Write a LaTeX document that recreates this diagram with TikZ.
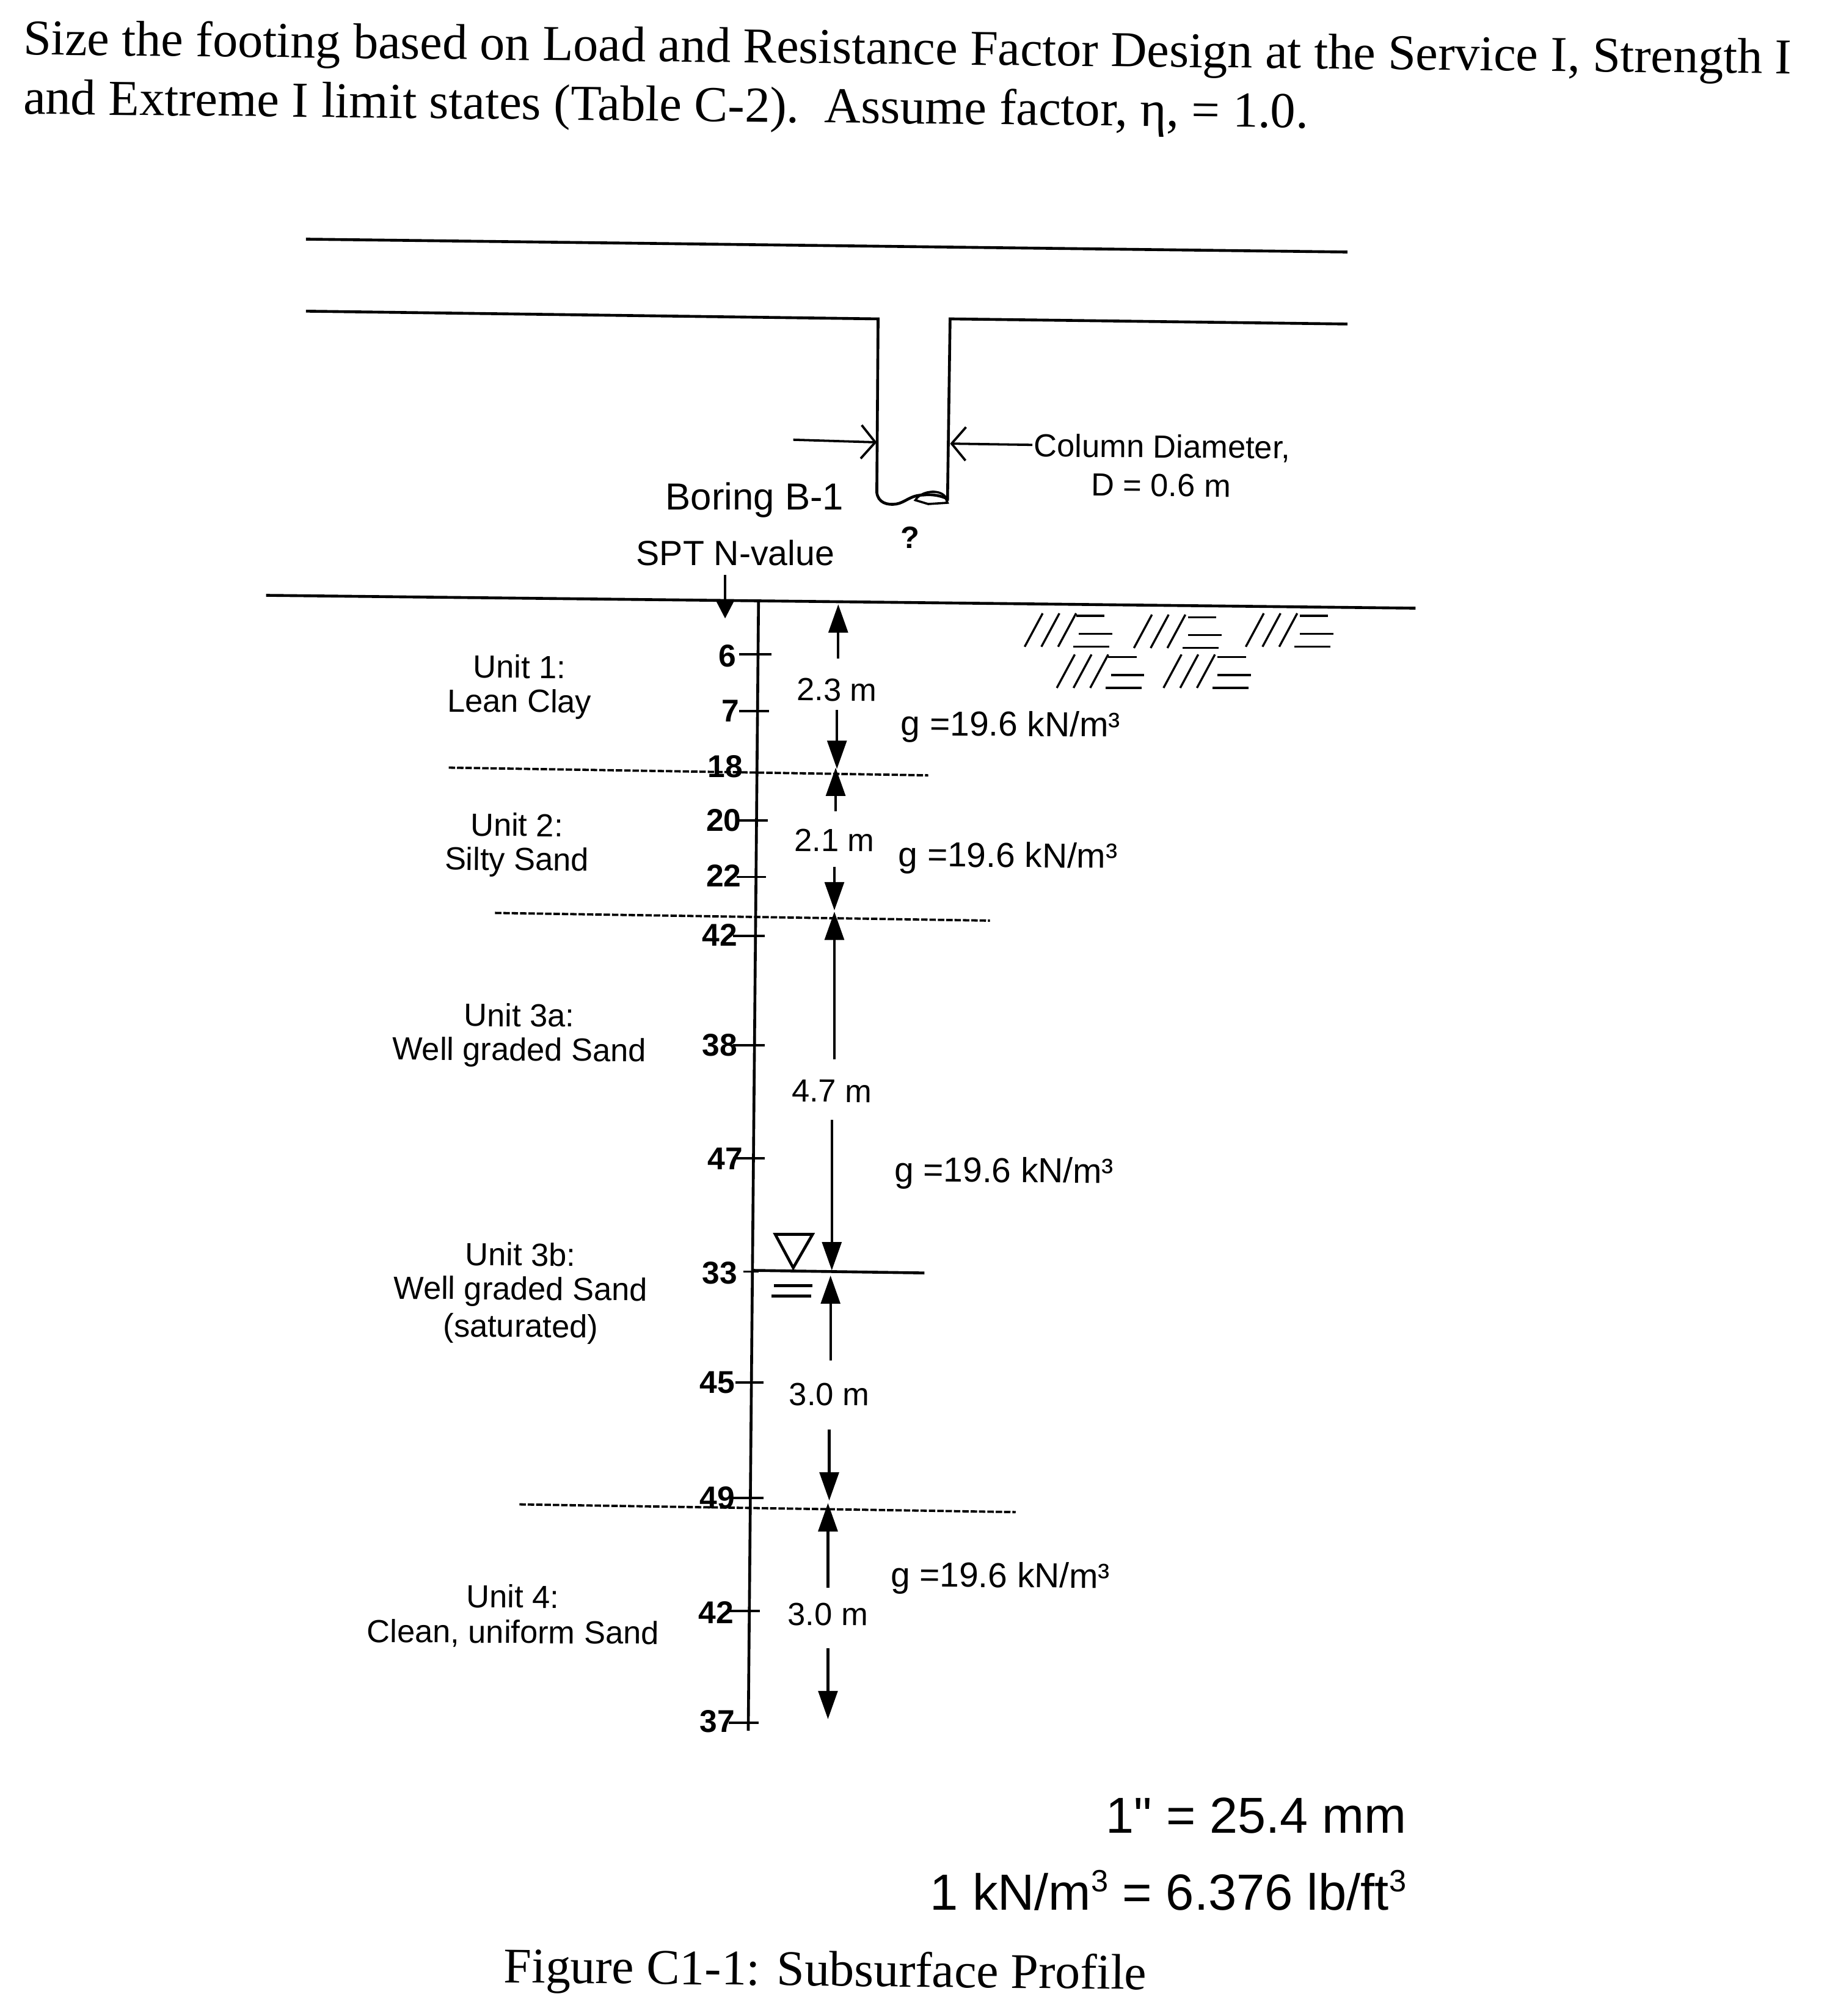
\documentclass[tikz,border=0pt]{standalone}
\usepackage{fontspec}
\setmainfont{Liberation Serif}
\setsansfont{Liberation Sans}
\newfontfamily\plainsans{Liberation Sans}
\usetikzlibrary{arrows.meta}
\newcommand{\fsz}[1]{\fontsize{#1}{#1}\selectfont}
\newcommand{\supthree}{\raisebox{0.36em}{\fsz{24}3}}
\newcommand{\hatchgroup}[3]{%
  \foreach \dx in {0,13,26}{\draw[hatch] (#1+\dx,#2) -- (#1+\dx+14,#2-26);}
  \draw[hatch] (#1+38,#2) -- (#1+66,#2);
  \draw[hatch] (#1+42,#2-10) -- (#1+68,#2-10);
  \draw[hatch] (#1+40+#3,#2-24) -- (#1+62+#3,#2-24);
}
\tikzset{
  x=1pt,y=-1pt,
  ln/.style={line width=2.2pt,black},
  thinln/.style={line width=1.7pt,black},
  hatch/.style={line width=1.6pt,black},
  soil/.style={line width=1.8pt,black,dash pattern=on 5pt off 1.5pt},
  tick/.style={line width=1.8pt,black},
  dim/.style={line width=2pt,black,-{Triangle[length=22pt,width=15pt]}},
  barb/.style={line width=1.8pt,black,-{Straight Barb[length=11pt,width=26pt]}},
  lab/.style={font=\sffamily\fsz{24.9},inner sep=0pt,rotate=-0.4,yshift=-1.5pt},
  num/.style={font=\sffamily\bfseries\fsz{24.5},inner sep=0pt},
  unitgamma/.style={font=\sffamily\fsz{27},inner sep=0pt,rotate=-0.4,yshift=-2.5pt},
  serif/.style={font=\rmfamily\fsz{39},inner sep=0pt,anchor=west,rotate=-0.62},
}
\begin{document}
\begin{tikzpicture}
\useasboundingbox (0,0) rectangle (1420.7,1567.9);
% heading
\node[serif] (h1) at (18,33) {Size the footing based on Load and Resistance Factor Design at the Service I, Strength I};
\node[serif,font=\rmfamily\fsz{39.2}] (h2) at (18,79) {and Extreme I limit states (Table C-2).\ \ Assume factor, η, = 1.0.};
% structure
\draw[ln] (238,186) -- (1048,196);
\draw[ln] (238,242) -- (683,248) -- (682,383) .. controls (683,391) and (690,393) .. (697,392)
  .. controls (704,391) and (708,385) .. (718,385) .. controls (726,384) and (733,386) .. (737,388) -- (739,248) -- (1048,252);
\draw[thinln] (712,389) .. controls (716,382) and (730,380) .. (735,386) -- (737,391) -- (722,392) -- cycle;
\coordinate (cl) at (682,344); \coordinate (cr) at (739,345);
\coordinate (cla) at (617,342); \coordinate (cra) at (803,346);
\draw[barb] (cla) -- (cl);
\draw[barb] (cra) -- (cr);
\node[lab] (cd1) at (904,347) {Column Diameter,};
\node[lab] (cd2) at (903,376) {D = 0.6 m};
\node[font=\sffamily\bfseries\fsz{24},inner sep=0pt] (q) at (708,418) {?};
\node[font=\sffamily\fsz{29.3},inner sep=0pt] (bor) at (587,389) {Boring B-1};
\node[font=\sffamily\fsz{27.2},inner sep=0pt] (spt) at (572,430) {SPT N-value};
% ground
\draw[ln] (207,463) -- (1101,473);
\coordinate (sa) at (564,447); \coordinate (sb) at (564,481);
\draw[line width=1.8pt,-{Triangle[length=14pt,width=14pt]}] (sa) -- (sb);
% hatch
\hatchgroup{797}{503}{0}
\hatchgroup{882}{504}{2}
\hatchgroup{969}{503}{2}
\hatchgroup{822}{535}{0}
\hatchgroup{905}{535}{2}
% boring
\draw[ln] (590,467) -- (582,1346);
\foreach \xa/\xb/\yy in {575/600/509,575/598/553,573/597/638,573/596/682,570/595/728,570/595/813,570/595/901,578/590/989,572/594/1075,570/594/1165,567/591/1253,567/590/1340}{
  \draw[tick] (\xa,\yy) -- (\xb,\yy);
}
\foreach \nm/\px/\py/\tx in {n1/566/510/6,n2/568/553/7,n3/564/596/18,n4/563/638/20,n5/563/681/22,n6/560/727/42,n7/560/813/38,n8/564/901/47,n9/560/990/33,n10/558/1075/45,n11/558/1165/49,n12/557/1254/42,n13/558/1339/37}{
  \node[num] (\nm) at (\px,\py) {\tx};
}
% soil boundaries
\draw[soil] (349,597) -- (722,603);
\draw[soil] (385,710) -- (770,716);
\draw[soil] (404,1170) -- (790,1176);
% water table
\draw[ln] (585,988) -- (719,990);
\draw[ln] (603,960) -- (632,960) -- (617,986) -- cycle;
\draw[ln] (602,1000) -- (632,1000);
\draw[ln] (600,1008) -- (631,1008);
% unit labels
\node[lab] (u1a) at (404,517) {Unit 1:};
\node[lab] (u1b) at (404,546) {Lean Clay};
\node[lab] (u2a) at (402,640) {Unit 2:};
\node[lab] (u2b) at (402,669) {Silty Sand};
\node[lab] (u3a) at (404,788) {Unit 3a:};
\node[lab] (u3b) at (404,817) {Well graded Sand};
\node[lab] (u4a) at (405,974) {Unit 3b:};
\node[lab] (u4b) at (405,1003) {Well graded Sand};
\node[lab] (u4c) at (405,1032) {(saturated)};
\node[lab] (u5a) at (399,1240) {Unit 4:};
\node[lab] (u5b) at (399,1269) {Clean, uniform Sand};
% dimensions
\node[lab] (d1) at (651,535) {2.3 m};
\node[lab] (d2) at (649,652) {2.1 m};
\node[lab] (d3) at (647,847) {4.7 m};
\node[lab] (d4) at (645,1083) {3.0 m};
\node[lab] (d5) at (644,1254) {3.0 m};
\foreach \xa/\ya/\xb/\yb in {
  652/512/652/470, 651/552/651/598,
  650/631/650/597, 649/674/649/708,
  649/824/649/709, 647/871/647/988,
  646/1058/646/992, 645/1112/645/1167,
  644/1235/644/1169, 644/1282/644/1337}{
  \draw[dim] (\xa,\ya) -- (\xb,\yb);
}
% unit weights
\node[unitgamma] (g1) at (786,563) {g =19.6 kN/m³};
\node[unitgamma] (g2) at (784,665) {g =19.6 kN/m³};
\node[unitgamma] (g3) at (781,910) {g =19.6 kN/m³};
\node[unitgamma] (g4) at (778,1225) {g =19.6 kN/m³};
% conversions and caption
\node[font=\plainsans\fsz{39.3},inner sep=0pt,anchor=east] (c1) at (1094,1412) {1" = 25.4 mm};
\node[font=\sffamily\fsz{39.5},inner sep=0pt,anchor=east] (c2) at (1094,1470) {1 kN/m\supthree{} = 6.376 lb/ft\supthree};
\node[font=\rmfamily\fsz{38.8},inner sep=0pt,rotate=-0.62] (cap) at (642,1535) {Figure C1-1: Subsurface Profile};
\end{tikzpicture}
\end{document}
